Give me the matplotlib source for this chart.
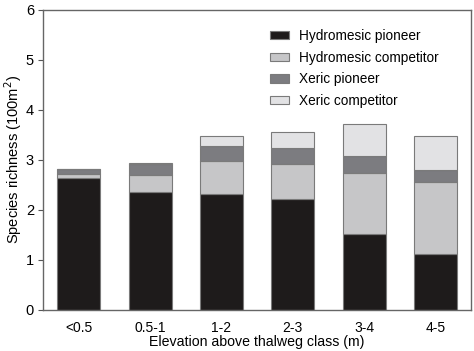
import matplotlib
matplotlib.use("Agg")
import matplotlib.pyplot as plt
import numpy as np

plt.rcParams["font.family"] = ["Liberation Sans", "DejaVu Sans"]

classes = ["<0.5", "0.5-1", "1-2", "2-3", "3-4", "4-5"]
hydromesic_pioneer = [2.64, 2.35, 2.32, 2.22, 1.51, 1.11]
hydromesic_competitor = [0.08, 0.35, 0.65, 0.69, 1.22, 1.44]
xeric_pioneer = [0.10, 0.21, 0.31, 0.32, 0.35, 0.24]
xeric_competitor = [0.00, 0.02, 0.20, 0.32, 0.63, 0.68]

series = [
    ("Hydromesic pioneer", hydromesic_pioneer, "#1e1b1b"),
    ("Hydromesic competitor", hydromesic_competitor, "#c6c6c8"),
    ("Xeric pioneer", xeric_pioneer, "#7c7c80"),
    ("Xeric competitor", xeric_competitor, "#e2e2e4"),
]

fig = plt.figure(figsize=(4.74, 3.51), dpi=100)
ax = fig.add_axes([0.091, 0.117, 0.903, 0.855])

x = np.arange(len(classes))
bottom = np.zeros(len(classes))
for label, values, color in series:
    ax.bar(x, values, width=0.6, bottom=bottom, color=color,
           edgecolor="#7a7a7a", linewidth=0.8, label=label)
    bottom += np.asarray(values)

ax.set_xlim(-0.5, 5.5)
ax.set_ylim(0, 6)
ax.set_xticks(x, classes)
ax.set_yticks(range(7))
ax.tick_params(axis="x", length=0, labelsize=10, pad=8)
ax.tick_params(axis="y", direction="out", length=3.6, labelsize=10.5,
               pad=3, color="#555555")
for spine in ax.spines.values():
    spine.set_color("#666666")
    spine.set_linewidth(1.0)

ax.set_xlabel("Elevation above thalweg class (m)", fontsize=10.2, labelpad=0)
ax.set_ylabel("Species richness (100m$^2$)", fontsize=10.5, labelpad=1)

ax.legend(loc="upper left", bbox_to_anchor=(0.53, 0.936), frameon=False,
          fontsize=9.8, handlelength=1.4, handleheight=0.55,
          labelspacing=0.56, handletextpad=0.75, borderpad=0, borderaxespad=0)

fig.savefig("out.png", dpi=100)
